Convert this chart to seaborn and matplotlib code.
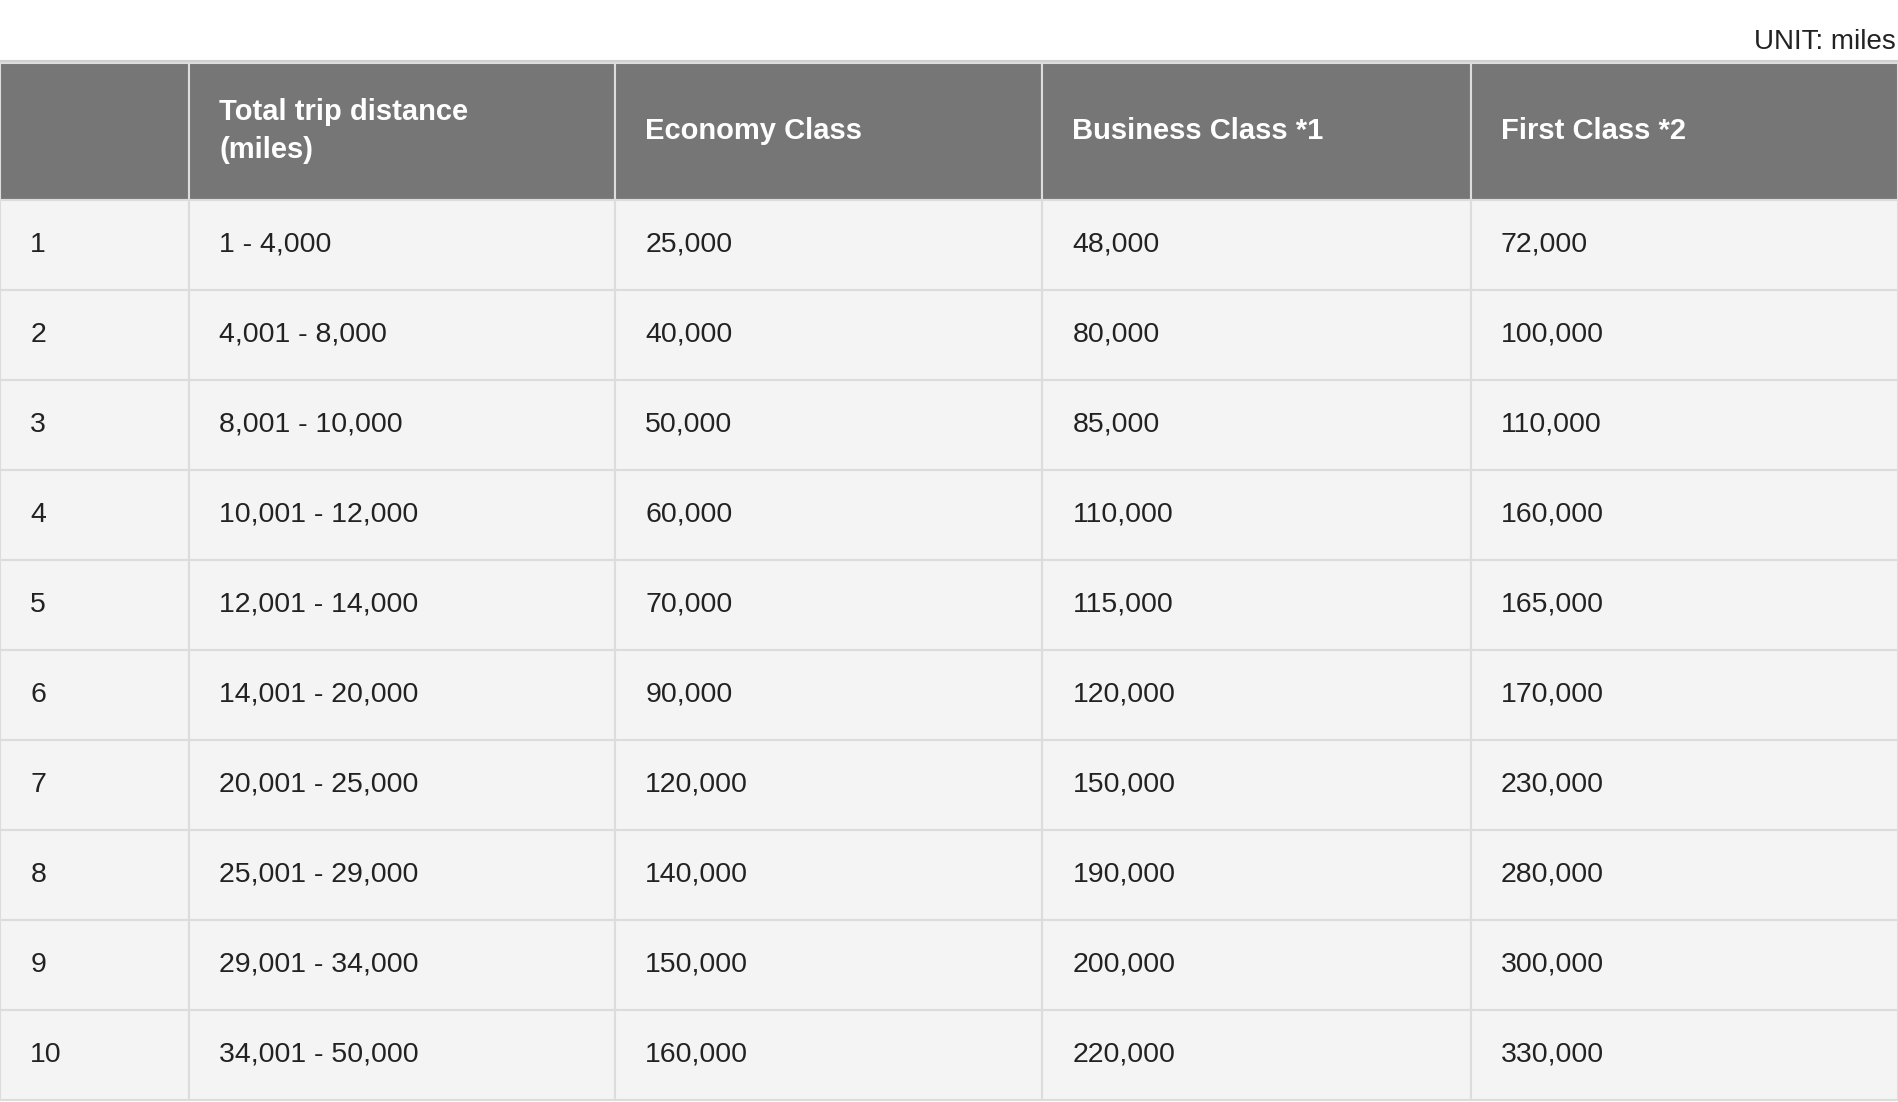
import matplotlib
matplotlib.use("Agg")
import matplotlib.pyplot as plt
import seaborn as sns
from matplotlib.patches import Rectangle

sns.set_theme(style="white")
plt.rcParams['font.family'] = ['Liberation Sans', 'DejaVu Sans']

headers = ["", "Total trip distance\n(miles)", "Economy Class", "Business Class *1", "First Class *2"]
zones = ["1", "2", "3", "4", "5", "6", "7", "8", "9", "10"]
distances = ["1 - 4,000", "4,001 - 8,000", "8,001 - 10,000", "10,001 - 12,000", "12,001 - 14,000",
             "14,001 - 20,000", "20,001 - 25,000", "25,001 - 29,000", "29,001 - 34,000", "34,001 - 50,000"]
economy = [25000, 40000, 50000, 60000, 70000, 90000, 120000, 140000, 150000, 160000]
business = [48000, 80000, 85000, 110000, 115000, 120000, 150000, 190000, 200000, 220000]
first = [72000, 100000, 110000, 160000, 165000, 170000, 230000, 280000, 300000, 330000]
unit_label = "UNIT: miles"

W, H = 1568, 910
col_x = [0, 156, 508, 861, 1215, 1568]
header_top, header_bot = 52, 165
row_h = (908 - header_bot) / len(zones)

fig = plt.figure(figsize=(18.98, 11.02), dpi=100)
ax = fig.add_axes([0, 0, 1, 1])
ax.set_xlim(0, W)
ax.set_ylim(H, 0)
ax.axis("off")

ax.text(1566, 35, unit_label, ha="right", va="center", fontsize=20, color="#222222")
ax.plot([0, W], [50, 50], color="#d0d0d0", lw=1.5)

pad = 25
for c in range(5):
    ax.add_patch(Rectangle((col_x[c], header_top), col_x[c+1]-col_x[c], header_bot-header_top,
                           facecolor="#767676", edgecolor="#dddddd", lw=1.5))
    ax.text(col_x[c] + pad, (header_top+header_bot)/2, headers[c], ha="left", va="center",
            fontsize=21, fontweight="bold", color="white", linespacing=1.45)

for r in range(len(zones)):
    y0 = header_bot + r*row_h
    vals = [zones[r], distances[r], f"{economy[r]:,}", f"{business[r]:,}", f"{first[r]:,}"]
    for c in range(5):
        ax.add_patch(Rectangle((col_x[c], y0), col_x[c+1]-col_x[c], row_h,
                               facecolor="#f4f4f4", edgecolor="#dcdcdc", lw=1.5))
        ax.text(col_x[c] + pad, y0 + row_h/2, vals[c], ha="left", va="center",
                fontsize=20.5, color="#222222")

fig.savefig("out.png", dpi=100, facecolor="white")
